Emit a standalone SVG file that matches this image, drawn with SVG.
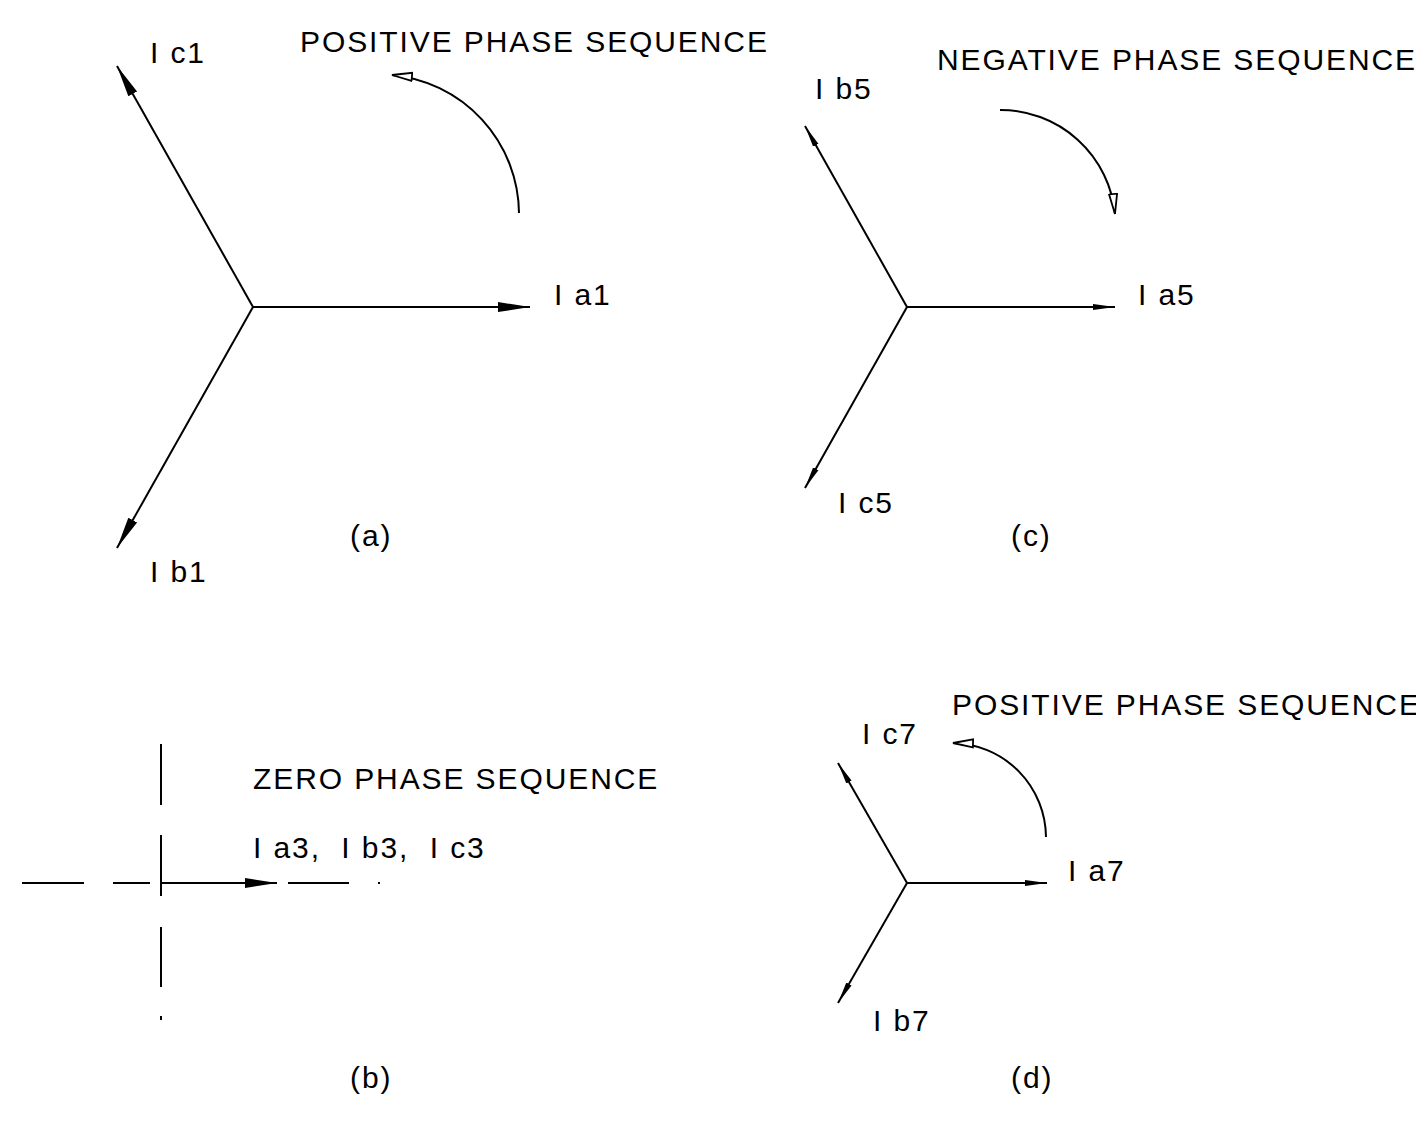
<svg xmlns="http://www.w3.org/2000/svg" width="1416" height="1136" viewBox="0 0 1416 1136">
<style>
text{font-family:"Liberation Sans",Arial,sans-serif;font-size:30px;fill:#000;letter-spacing:1.9px;white-space:pre}
.l{stroke:#000;stroke-width:2;fill:none}
</style>
<defs>
<marker id="f" markerUnits="userSpaceOnUse" markerWidth="34" markerHeight="14" refX="32" refY="6" orient="auto"><path d="M0,1 L32,6 L0,11 Z" fill="#000"/></marker>
<marker id="fs" markerUnits="userSpaceOnUse" markerWidth="24" markerHeight="10" refX="22" refY="4" orient="auto"><path d="M0,1 L22,4 L0,7 Z" fill="#000"/></marker>
<marker id="o" markerUnits="userSpaceOnUse" markerWidth="24" markerHeight="14" refX="21" refY="6" orient="auto"><path d="M1,2 L21,6 L1,10 Z" fill="#fff" stroke="#000" stroke-width="1.8"/></marker>
</defs>
<g id="connectors">
<line class="l" x1="253" y1="307" x2="530" y2="307" marker-end="url(#f)"/>
<line class="l" x1="253" y1="307" x2="117" y2="66" marker-end="url(#f)"/>
<line class="l" x1="253" y1="307" x2="117" y2="548" marker-end="url(#f)"/>
<path class="l" d="M519,213 A140,140 0 0 0 392,75" marker-end="url(#o)"/>
<line class="l" x1="907" y1="307" x2="1115" y2="307" marker-end="url(#fs)"/>
<line class="l" x1="907" y1="307" x2="805" y2="126" marker-end="url(#fs)"/>
<line class="l" x1="907" y1="307" x2="805" y2="488" marker-end="url(#fs)"/>
<path class="l" d="M1000,110 A115,115 0 0 1 1115,214" marker-end="url(#o)"/>
<line class="l" x1="907" y1="883" x2="1047" y2="883" marker-end="url(#fs)"/>
<line class="l" x1="907" y1="883" x2="838" y2="763" marker-end="url(#fs)"/>
<line class="l" x1="907" y1="883" x2="838" y2="1003" marker-end="url(#fs)"/>
<path class="l" d="M1046,837 A95,95 0 0 0 953,743" marker-end="url(#o)"/>
<line class="l" x1="161" y1="883" x2="277" y2="883" marker-end="url(#f)"/>
<path class="l" d="M22,883H84M113,883H150M288,883H349M378,883H380M161,744V805M161,835V896M161,927V987M161,1016V1020"/>
</g>
<g id="labels">
<text x="150" y="63">I c1</text>
<text x="300" y="52">POSITIVE PHASE SEQUENCE</text>
<text x="554" y="305">I a1</text>
<text x="150" y="582">I b1</text>
<text x="350" y="546">(a)</text>
<text x="815" y="99">I b5</text>
<text x="937" y="70">NEGATIVE PHASE SEQUENCE</text>
<text x="1138" y="305">I a5</text>
<text x="838" y="513">I c5</text>
<text x="1011" y="546">(c)</text>
<text x="253" y="789">ZERO PHASE SEQUENCE</text>
<text x="253" y="858">I a3,  I b3,  I c3</text>
<text x="350" y="1088">(b)</text>
<text x="862" y="744">I c7</text>
<text x="952" y="715">POSITIVE PHASE SEQUENCE</text>
<text x="1068" y="881">I a7</text>
<text x="873" y="1031">I b7</text>
<text x="1011" y="1088">(d)</text>
</g>
</svg>
